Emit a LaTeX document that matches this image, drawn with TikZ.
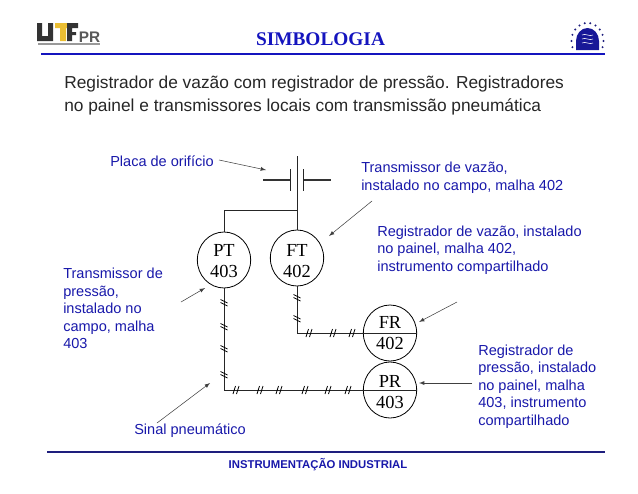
\documentclass[tikz,border=0pt]{standalone}
\usepackage{fontspec}
\setmainfont{Liberation Serif}
\setsansfont{Liberation Sans}
\usetikzlibrary{shapes}
\usetikzlibrary{arrows.meta}
\definecolor{azul}{RGB}{24,24,170}
\definecolor{azulforte}{RGB}{20,20,190}
\definecolor{azulescuro}{RGB}{30,30,125}
\definecolor{ouro}{RGB}{235,190,50}
\tikzset{
    instr/.style = {ellipse, draw=black, semithick, inner sep=0pt, minimum width=40pt, minimum height=42pt, align=center, font=\fontsize{13.8}{15.8}\selectfont},
    nota/.style = {anchor=west, inner sep=0pt, align=left, text=azul, font=\sffamily\fontsize{10.9}{13.2}\selectfont},
    corpo/.style = {anchor=west, inner sep=0pt, align=left, text=black!85, font=\sffamily\fontsize{13}{17}\selectfont},
    linha/.style = {draw=black!85, semithick},
    placa/.style = {draw=black!80, line width=1.5pt},
    seta/.style = {-latex, draw=black!75, thin},
    regua/.style = {line width=1.3pt},
    tickv/.pic = {\draw[black,semithick] (-3.5,-3.5) -- (3.5,0); \draw[black,semithick] (-3.5,-0.5) -- (3.5,3);},
    tickh/.pic = {\draw[black,semithick] (-3,4) -- (-0.5,-4); \draw[black,semithick] (0.5,4) -- (3,-4);}
}
\begin{document}
\begin{tikzpicture}[x=0.75pt,y=-0.75pt]
\useasboundingbox (0,0) rectangle (638,493);
%
% logos
\fill[black!80] (37,23) rectangle (42,41) (37,36) rectangle (53,41) (48,23) rectangle (53,41);
\fill[ouro] (55,23) rectangle (67,28) (60,28) rectangle (66,41);
\fill[black!80] (67,23) rectangle (78,28) (67,28) rectangle (72,41) (67,32) rectangle (76,35);
\node[inner sep=0pt, text=black!65, font=\sffamily\bfseries\fontsize{11.5}{11.5}\selectfont] at (89.5,37) (sigla) {PR};
\draw[black!40,line width=0.8pt] (38,44) -- (100,44);
\fill[azulescuro!80!blue] (576,50) -- (576,41) arc (180:360:11.5 and 13) -- (599,50) -- cycle;
\foreach \a in {-200,-180,...,20} \fill[azulescuro] (587.5,41) ++(\a:16 and 18) circle (1.1);
\foreach \y in {35,39,43} \draw[white,thin] (582,\y) .. controls (585,\y-2) and (590,\y+2) .. (593,\y);
%
\node[text=azulforte, inner sep=0pt, font=\bfseries\fontsize{14.5}{16}\selectfont] at (320.5,39) (titulo) {SIMBOLOGIA};
\draw[regua,azulforte] (41,54) -- (605,54);
\node[corpo] at (64,95.5) (texto) {Registrador de vazão com registrador de pressão. Registradores\\no painel e transmissores locais com transmissão pneumática};
%
\node[instr] at (224,260) (pt) {\rule{0pt}{10.5pt}PT\\403};
\node[instr] at (297,258) (ft) {\rule{0pt}{13.5pt}FT\\402};
\node[instr] at (390,333) (fr) {FR\\402};
\node[instr] at (390,390) (pr) {\rule{0pt}{11.5pt}PR\\403};
%
\coordinate (topo) at (297,156);
\coordinate (ramo) at (297,210);
\coordinate (pl) at (263,180);
\coordinate (pd) at (331,180);
%
\draw[linha] (topo) -- (ft);
\draw[linha] (pt) |- (ramo);
\draw[linha] (ft) |- (fr);
\draw[linha] (pt) |- (pr);
\draw[linha] (fr.west) -- (fr.east);
\draw[linha] (pr.west) -- (pr.east);
\draw[placa] (pl) -- (290.7,180);
\draw[placa] (303.7,180) -- (pd);
\draw[linha,thick] (290.7,169) -- (290.7,191);
\draw[linha,thick] (303.7,169) -- (303.7,191);
%
\foreach \y in {303,327,349,375} \pic at (224,\y) {tickv};
\foreach \y in {298,319} \pic at (297,\y) {tickv};
\foreach \x in {309,333,352} \pic at (\x,333) {tickh};
\foreach \x in {236,260,279,305,328,348} \pic at (\x,390) {tickh};
%
\node[nota] at (110,161) (nplaca) {Placa de orifício};
\node[nota] at (361,177.5) (nft) {Transmissor de vazão,\\instalado no campo, malha 402};
\node[nota] at (377,250) (nfr) {Registrador de vazão, instalado\\no painel, malha 402,\\instrumento compartilhado};
\node[nota] at (63,308.5) (npt) {Transmissor de\\pressão,\\instalado no\\campo, malha\\403};
\node[nota] at (478,386.5) (npr) {Registrador de\\pressão, instalado\\no painel, malha\\403, instrumento\\compartilhado};
\node[nota] at (134,431) (nsinal) {Sinal pneumático};
%
\coordinate (a1) at (219,160);
\coordinate (a2) at (266,170);
\coordinate (b1) at (372,201);
\coordinate (b2) at (329,236);
\coordinate (c1) at (181,302);
\coordinate (c2) at (205,288);
\coordinate (d1) at (457,302);
\coordinate (d2) at (419,322);
\coordinate (e1) at (472,383);
\coordinate (e2) at (419,383);
\coordinate (f1) at (157,423);
\coordinate (f2) at (210,383);
\draw[seta] (a1) -- (a2);
\draw[seta] (b1) -- (b2);
\draw[seta] (c1) -- (c2);
\draw[seta] (d1) -- (d2);
\draw[seta] (e1) -- (e2);
\draw[seta] (f1) -- (f2);
%
\draw[regua,azulescuro] (47,451.7) -- (605,451.7);
\node[text=azul, inner sep=0pt, font=\sffamily\bfseries\fontsize{8.5}{10}\selectfont] at (318,465) (rodape) {INSTRUMENTAÇÃO INDUSTRIAL};
\end{tikzpicture}
\end{document}
